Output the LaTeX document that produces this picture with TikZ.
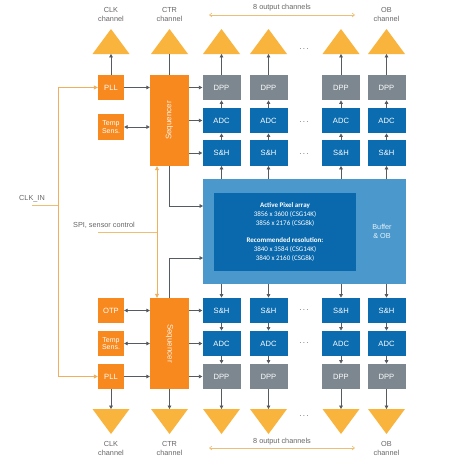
\documentclass[tikz,border=0pt]{standalone}
\usepackage{fontspec}
\setmainfont{Liberation Sans}
\newfontfamily\calfont{Carlito}
\usetikzlibrary{arrows.meta}
\definecolor{org}{HTML}{F7891E}
\definecolor{tri}{HTML}{F9B43E}
\definecolor{blu}{HTML}{0B6CB0}
\definecolor{gry}{HTML}{7D878F}
\definecolor{pxo}{HTML}{4A98CC}
\definecolor{pxi}{HTML}{0A69AD}
\definecolor{oln}{HTML}{EDBF74}
\definecolor{arr}{HTML}{555B60}
\definecolor{txt}{HTML}{666666}
\begin{document}
\begin{tikzpicture}[x=1pt,y=-1pt,
  bx/.style={draw=none,minimum width=38pt,minimum height=25.5pt,inner sep=0pt,text=white,font=\fontsize{7.6}{8}\selectfont,align=center},
  bbox/.style={bx,fill=blu},
  gbox/.style={bx,fill=gry},
  obox/.style={bx,fill=org,minimum width=26pt},
  seqbox/.style={draw=none,fill=org,minimum width=39pt,minimum height=91pt,inner sep=0pt},
  seqtext/.style={text=white!90!org,font=\fontsize{8}{8}\selectfont},
  ga/.style={draw=arr,line width=0.7pt,-{Triangle[length=3.4pt,width=3.6pt]}},
  gda/.style={draw=arr,line width=0.7pt,{Triangle[length=3.4pt,width=3.6pt]}-{Triangle[length=3.4pt,width=3.6pt]}},
  gl/.style={draw=arr,line width=0.7pt},
  ol/.style={draw=oln,line width=0.8pt},
  oa/.style={draw=oln!70!org,line width=0.8pt,-{Triangle[length=4pt,width=4pt]}},
  oda/.style={draw=oln,line width=0.6pt,{Straight Barb[length=2.5pt,width=4pt]}-{Straight Barb[length=2.5pt,width=4pt]}},
  lbl/.style={text=txt,font=\fontsize{7.3}{9}\selectfont,align=center,inner sep=0pt},
  dots/.style={text=txt,font=\fontsize{8}{8}\selectfont,inner sep=0pt},
  pxt/.style={text=white,font=\calfont\fontsize{7}{9}\selectfont,align=center,inner sep=0pt}
]
\useasboundingbox[fill=white] (0,0) rectangle (474,463);

% ---------- pixel array ----------
\node[fill=pxo,minimum width=203pt,minimum height=105pt,inner sep=0pt] (px) at (304.5,231.5) {};
\node[fill=pxi,minimum width=142pt,minimum height=78pt,inner sep=0pt] (pxin) at (285,232) {};
\node[pxt] (pxtext) at (285,232.5) {\textbf{Active Pixel array}\\3856 x 3600 (CSG14K)\\3856 x 2176 (CSG8k)\\[8pt]\textbf{Recommended resolution:}\\3840 x 3584 (CSG14K)\\3840 x 2160 (CSG8k)};
\node[text=white!88!pxo,font=\fontsize{7.3}{9}\selectfont,align=center,inner sep=0pt] (buf) at (382,231.5) {Buffer\\\& OB};

% ---------- top half ----------
\node[obox] (pllT) at (111,87.5) {PLL};
\node[obox,font=\fontsize{7}{7.5}\selectfont] (tempT) at (111,127) {Temp\\Sens.};
\node[seqbox] (seqT) at (169.5,120.5) {};
\node[seqtext,rotate=90] (seqTt) at (seqT) {Sequencer};

\foreach \i/\x in {1/221.5,2/268.5,3/341,4/386.5}{
  \node[gbox] (dT\i) at (\x,87.5) {DPP};
  \node[bbox] (aT\i) at (\x,120.5) {ADC};
  \node[bbox] (sT\i) at (\x,153) {S\&H};
  \coordinate (tT\i) at (\x,54);
  \fill[tri] (\x-18.5,54) -- (\x+18.5,54) -- (\x,29) -- cycle;
  \draw[ga] (px.north -| sT\i.south) -- (sT\i.south);
  \draw[ga] (sT\i.north) -- (aT\i.south);
  \draw[ga] (aT\i.north) -- (dT\i.south);
  \draw[ga] (dT\i.north) -- (tT\i);
}
\coordinate (tTclk) at (111,54);
\coordinate (tTctr) at (169.5,54);
\fill[tri] (92.5,54) -- (129.5,54) -- (111,29) -- cycle;
\fill[tri] (151,54) -- (188,54) -- (169.5,29) -- cycle;
\draw[ga] (pllT.north) -- (tTclk);
\draw[gl] (seqT.north) -- (tTctr);

\draw[ga] (pllT.east) -- (pllT.east -| seqT.west);
\draw[gda] (tempT.east) -- (tempT.east -| seqT.west);
\draw[ga] (dT1.west -| seqT.east) -- (dT1.west);
\draw[ga] (aT1.west -| seqT.east) -- (aT1.west);
\draw[ga] (sT1.west -| seqT.east) -- (sT1.west);

\node[lbl] (lclkT) at (111,14.5) {CLK\\channel};
\node[lbl] (lctrT) at (169.5,14.5) {CTR\\channel};
\node[lbl] (lobT) at (386.5,14.5) {OB\\channel};
\node[lbl] (l8T) at (282,8) {8 output channels};
\coordinate (o8Ta) at (209,15);
\coordinate (o8Tb) at (355,15);
\draw[oda] (o8Ta) -- (o8Tb);
\node[dots] (d1) at (304,49) {.\kern1.2pt.\kern1.2pt.};
\node[dots] (d2) at (304,122) {.\kern1.2pt.\kern1.2pt.};
\node[dots] (d3) at (304,154) {.\kern1.2pt.\kern1.2pt.};

% ---------- bottom half ----------
\node[obox] (otpB) at (111,310.5) {OTP};
\node[obox,font=\fontsize{7}{7.5}\selectfont] (tempB) at (111,343.5) {Temp\\Sens.};
\node[obox] (pllB) at (111,376.5) {PLL};
\node[seqbox] (seqB) at (169.5,343.5) {};
\node[seqtext,rotate=-90] (seqBt) at (seqB) {Sequencer};

\foreach \i/\x in {1/221.5,2/268.5,3/341,4/386.5}{
  \node[bbox] (sB\i) at (\x,310.5) {S\&H};
  \node[bbox] (aB\i) at (\x,343.5) {ADC};
  \node[gbox] (dB\i) at (\x,376.5) {DPP};
  \coordinate (tB\i) at (\x,409);
  \fill[tri] (\x-18.5,409) -- (\x+18.5,409) -- (\x,434) -- cycle;
  \draw[ga] (px.south -| sB\i.north) -- (sB\i.north);
  \draw[ga] (sB\i.south) -- (aB\i.north);
  \draw[ga] (aB\i.south) -- (dB\i.north);
  \draw[ga] (dB\i.south) -- (tB\i);
}
\coordinate (tBclk) at (111,409);
\coordinate (tBctr) at (169.5,409);
\fill[tri] (92.5,409) -- (129.5,409) -- (111,434) -- cycle;
\fill[tri] (151,409) -- (188,409) -- (169.5,434) -- cycle;
\draw[ga] (pllB.south) -- (tBclk);
\draw[ga] (seqB.south) -- (tBctr);

\draw[ga] (pllB.east) -- (pllB.east -| seqB.west);
\draw[gda] (tempB.east) -- (tempB.east -| seqB.west);
\draw[gda] (otpB.east) -- (otpB.east -| seqB.west);
\draw[ga] (sB1.west -| seqB.east) -- (sB1.west);
\draw[ga] (aB1.west -| seqB.east) -- (aB1.west);
\draw[ga] (dB1.west -| seqB.east) -- (dB1.west);

\node[lbl] (lclkB) at (111,448.5) {CLK\\channel};
\node[lbl] (lctrB) at (169.5,448.5) {CTR\\channel};
\node[lbl] (lobB) at (386.5,448.5) {OB\\channel};
\node[lbl] (l8B) at (282,442) {8 output channels};
\coordinate (o8Ba) at (209,448);
\coordinate (o8Bb) at (355,448);
\draw[oda] (o8Ba) -- (o8Bb);
\node[dots] (d4) at (304,310) {.\kern1.2pt.\kern1.2pt.};
\node[dots] (d5) at (304,343) {.\kern1.2pt.\kern1.2pt.};
\node[dots] (d6) at (304,416) {.\kern1.2pt.\kern1.2pt.};

% ---------- sequencer to pixel array ----------
\coordinate (pjT) at (203,206);
\coordinate (pjB) at (203,258);
\draw[ga] (seqT.south) |- (pjT);
\draw[ga] (seqB.north) |- (pjB);

% ---------- CLK_IN ----------
\node[lbl,anchor=south] (clkin) at (32,202) {CLK\_IN};
\coordinate (cl) at (32,205);
\coordinate (cj) at (58.7,205);
\draw[ol] (cl) -- (cj);
\draw[oa] (cj) |- (pllT.west);
\draw[oa] (cj) |- (pllB.west);

% ---------- SPI ----------
\node[lbl,anchor=south] (spi) at (104,229) {SPI, sensor control};
\coordinate (sl) at (98,232);
\coordinate (sj) at (157,232);
\draw[ol] (sl) -- (sj);
\draw[oa] (sj) -- (seqT.south -| sj);
\draw[oa] (sj) -- (seqB.north -| sj);
\end{tikzpicture}
\end{document}
